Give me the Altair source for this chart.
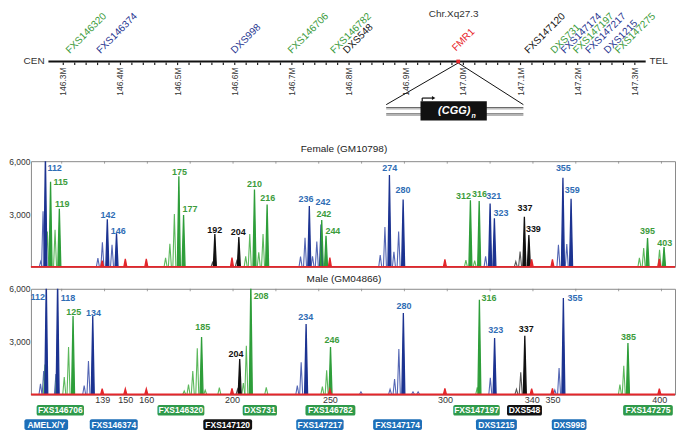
import json
import altair as alt
import pandas as pd

FONT = "Liberation Sans"

# ---------------- chromosome map data ----------------
MAP_TITLE = "Chr.Xq27.3"
MAP_TITLE_MB = 146.983
CHROM_SPAN = [146.274, 147.319]
MAJOR_TICKS = [146.3, 146.4, 146.5, 146.6, 146.7, 146.8, 146.9, 147.0, 147.1, 147.2, 147.3]
MINOR_TICKS = [round(146.3 + 0.02 * i, 2) for i in range(51)]
MARKER_NAMES = ["FXS146320", "FXS146374", "DXS998", "FXS146706", "FXS146782", "DXS548",
                "FXS147120", "DXS731", "FXS147174", "FXS147197", "FXS147217", "DXS1215", "FXS147275"]
MARKER_DYES = ["green", "blue", "blue", "green", "green", "black",
               "black", "green", "blue", "green", "blue", "blue", "green"]
MARKER_LABEL_MB = [146.3111, 146.3652, 146.6002, 146.6997, 146.7743, 146.7966,
                   147.1139, 147.1593, 147.1774, 147.1988, 147.2202, 147.2528, 147.2717]
FMR1_MB = 146.991
FMR1_LABEL_MB = 146.987
CEN_MB = 146.2674
TEL_MB = 147.3257
INSET_SPAN = [146.865, 147.105]
GENE_BOX = [146.925, 147.041]
CGG_MB = 146.984
ARROW_SPAN = [146.928, 146.948]

# ---------------- electropherogram data (size in bp, height in RFU) ----------------
LADDER_SIZES = [139, 150, 160, 200, 250, 300, 340, 350, 400]
LADDER_POS = [139.9, 150.7, 160.5, 200.5, 246.2, 299.9, 340.4, 350.1, 400.0]
FEMALE_LADDER_H = [350, 450, 450, 520, 520, 420, 420, 430, 450]
MALE_LADDER_H = [330, 320, 320, 350, 300, 350, 330, 350, 330]
TOP_TICKS = [121, 141, 161, 181, 201, 221, 241, 261, 281, 301, 321, 341, 361, 381, 401]

FEMALE_BLUE = [(113.4, 6400), (142.3, 2700), (146.6, 1900), (236.6, 3450), (242.1, 2400),
               (274.0, 5210), (280.4, 3830), (321.0, 3600), (323.0, 2760), (355.0, 5060), (358.8, 3870)]
FEMALE_BLUE_MINOR = [(111.2, 300), (112.3, 3160), (137.9, 500), (140.0, 1400), (144.5, 1250),
                     (232.5, 580), (234.6, 1650), (238.1, 600), (240.1, 1440), (269.7, 670),
                     (271.9, 2260), (276.1, 860), (278.3, 2010), (318.9, 600), (352.9, 1250), (356.8, 1300)]
FEMALE_GREEN = [(115.8, 4830), (119.9, 3300), (175.7, 5140), (177.9, 2945), (211.0, 4390),
                (216.9, 3545), (242.4, 2660), (244.4, 1760), (311.8, 3780), (315.9, 3740),
                (394.5, 1633), (402.2, 1126)]
FEMALE_GREEN_MINOR = [(114.3, 2000), (117.9, 2100), (169.5, 505), (171.5, 1310), (173.6, 3000),
                      (206.9, 600), (208.8, 1860), (213.0, 820), (215.0, 1860), (309.7, 385),
                      (313.8, 350), (390.7, 507), (392.7, 1070), (400.1, 974)]
FEMALE_BLACK = [(192.5, 1860), (203.7, 1690), (337.0, 2840), (339.1, 1800)]
FEMALE_BLACK_MINOR = [(191.4, 250), (202.7, 320), (333.0, 300), (335.0, 862)]

MALE_BLUE = [(113.8, 6500), (119.1, 6500), (135.5, 4450), (235.1, 4000), (280.5, 4620),
             (323.1, 3200), (355.2, 5470)]
MALE_BLUE_MINOR = [(111.1, 600), (112.6, 1330), (118.3, 1160), (131.5, 500), (133.5, 1900),
                   (231.0, 500), (232.8, 1830), (260.7, 150), (274.3, 300), (276.4, 880),
                   (278.4, 2580), (285.0, 150), (287.4, 150), (321.1, 940), (351.2, 250), (353.2, 1500)]
MALE_GREEN = [(126.3, 4450), (186.3, 3260), (209.3, 6400), (246.5, 2690), (316.0, 5375), (385.35, 2920)]
MALE_GREEN_MINOR = [(113.2, 1700), (118.8, 1700), (122.2, 990), (124.2, 2690), (178.2, 200),
                    (180.2, 556), (182.2, 1333), (184.3, 2620), (188.0, 240), (194.6, 390),
                    (205.8, 650), (207.2, 2770), (216.5, 400), (242.7, 440), (244.7, 1370),
                    (315.0, 400), (381.6, 556), (383.4, 1633)]
MALE_BLACK = [(204.1, 2013), (337.2, 3334)]
MALE_BLACK_MINOR = [(203.1, 300), (333.3, 300), (335.3, 1258)]

FEMALE_LABELS = [("112", "blue", 117.7, 5600), ("115", "green", 120.5, 4790), ("119", "green", 121.3, 3580),
                 ("142", "blue", 142.6, 2950), ("146", "blue", 147.4, 2030), ("175", "green", 176.0, 5360),
                 ("177", "green", 180.9, 3300), ("192", "black", 192.5, 2070), ("204", "black", 203.4, 1970),
                 ("210", "green", 211.0, 4680), ("216", "green", 217.2, 3890), ("236", "blue", 235.1, 3840),
                 ("242", "blue", 243.0, 3680), ("242", "green", 243.4, 3010), ("244", "green", 247.6, 2010),
                 ("274", "blue", 274.2, 5600), ("280", "blue", 280.3, 4350), ("312", "green", 308.6, 4030),
                 ("316", "green", 316.1, 4160), ("321", "blue", 322.7, 4030), ("323", "blue", 326.1, 3070),
                 ("337", "black", 337.3, 3350), ("339", "black", 341.2, 2150), ("355", "blue", 355.2, 5600),
                 ("359", "blue", 359.3, 4350), ("395", "green", 394.5, 2010), ("403", "green", 402.5, 1340)]
MALE_LABELS = [("112", "blue", 109.8, 5530), ("118", "blue", 123.9, 5470), ("125", "green", 126.6, 4680),
               ("134", "blue", 135.8, 4620), ("185", "green", 186.8, 3810), ("204", "black", 202.4, 2310),
               ("208", "green", 214.1, 5570), ("234", "blue", 234.9, 4380), ("246", "green", 247.2, 3070),
               ("280", "blue", 280.8, 5040), ("316", "green", 320.5, 5490), ("323", "blue", 323.6, 3640),
               ("337", "black", 337.9, 3710), ("355", "blue", 360.6, 5470), ("385", "green", 385.6, 3260)]

BOX_NAMES = ["FXS146706", "FXS146320", "DXS731", "FXS146782", "FXS147197", "DXS548", "FXS147275",
             "AMELX/Y", "FXS146374", "FXS147120", "FXS147217", "FXS147174", "DXS1215", "DXS998"]
BOX_DYES = ["green", "green", "green", "green", "green", "black", "green",
            "blue", "blue", "black", "blue", "blue", "blue", "blue"]
BOX_ROWS = ["1"] * 7 + ["2"] * 7
BOX_START = [109.3, 165.7, 205.5, 234.8, 303.8, 328.9, 383.1, 103.6, 134.1, 187.1, 230.5, 266.4, 314.4, 349.8]
BOX_END = [131.4, 187.6, 221.5, 258.1, 325.5, 345.2, 406.3, 124.0, 156.5, 209.9, 252.6, 289.2, 333.5, 366.0]

# ---------------- styles ----------------
PEAK_COL = {"blue": "#1c3391", "green": "#2e9e3a", "black": "#111111", "red": "#e3262b"}
MINOR_COL = {"blue": "#5466b4", "green": "#5cb85c", "black": "#555555"}
LABEL_COL = {"blue": "#2f6db5", "green": "#3c9c3c", "black": "#111111"}
MAP_COL = {"blue": "#1f3590", "green": "#3a9a3a", "black": "#111111", "red": "#e8262a"}
BOX_COL = {"blue": "#1e6fb8", "green": "#2f9a4a", "black": "#111111"}
W = 646
HALF = 0.7
MB_DOMAIN = [146.2434, 147.3703]
BP_DOMAIN = [106.64, 407.32]

mb_scale = alt.Scale(domain=MB_DOMAIN, nice=False, zero=False)
lvl_scale = alt.Scale(domain=[-78, 52], nice=False, zero=False)
bp_scale = alt.Scale(domain=BP_DOMAIN, nice=False, zero=False)
h_scale = alt.Scale(domain=[0, 6000], nice=False)


def mx(f):
    return alt.X(f, type="quantitative", scale=mb_scale, axis=None)


def my(f):
    return alt.Y(f, type="quantitative", scale=lvl_scale, axis=None)


# ---------------- map panel ----------------
line_df = pd.DataFrame({"a": [CHROM_SPAN[0]], "b": [CHROM_SPAN[1]], "l": [0]})
tick_df = pd.DataFrame({"mb": MINOR_TICKS, "y1": -1.0, "y2": -3.6})
major_df = pd.DataFrame({"mb": MAJOR_TICKS, "l": -6.0,
                         "t": [f"{v:.1f}M" for v in MAJOR_TICKS]})
mk_df = pd.DataFrame({"mb": MARKER_LABEL_MB, "name": MARKER_NAMES, "l": 7.5,
                      "col": [MAP_COL[d] for d in MARKER_DYES]})
fmr_df = pd.DataFrame({"mb": [FMR1_LABEL_MB], "name": ["FMR1"], "l": [10.0]})
dot_df = pd.DataFrame({"mb": [FMR1_MB], "l": [0]})
title_df = pd.DataFrame({"mb": [MAP_TITLE_MB], "l": [47.5], "t": [MAP_TITLE]})
cen_df = pd.DataFrame({"mb": [CEN_MB], "l": [0], "t": ["CEN"]})
tel_df = pd.DataFrame({"mb": [TEL_MB], "l": [0], "t": ["TEL"]})
zoom_df = pd.DataFrame({"a": [FMR1_MB, FMR1_MB], "b": [INSET_SPAN[0], INSET_SPAN[1]],
                        "y1": [-1.5, -1.5], "y2": [-43.3, -43.3]})
gray_df = pd.DataFrame({"a": INSET_SPAN[0], "b": INSET_SPAN[1],
                        "l": [-46.2, -47.6, -52.6, -54.0],
                        "c": ["#6a6a6a", "#b5b5b5", "#6a6a6a", "#b5b5b5"]})
box_df = pd.DataFrame({"a": [GENE_BOX[0]], "b": [GENE_BOX[1]], "y1": [-40], "y2": [-59.3]})
cgg_df = pd.DataFrame({"mb": [CGG_MB], "l": [-49.5], "t": ["(CGG)"]})
n_df = pd.DataFrame({"mb": [GENE_BOX[1] - 0.023], "l": [-54.5], "t": ["n"]})
arr_v = pd.DataFrame({"a": [ARROW_SPAN[0]], "y1": [-40], "y2": [-36.7]})
arr_h = pd.DataFrame({"a": [ARROW_SPAN[0]], "b": [ARROW_SPAN[1]], "l": [-36.7]})
arr_p = pd.DataFrame({"mb": [ARROW_SPAN[1]], "l": [-36.7]})

map_layers = [
    alt.Chart(line_df).mark_rule(color="#111", strokeWidth=2).encode(x=mx("a"), x2="b", y=my("l")),
    alt.Chart(tick_df).mark_rule(color="#222", strokeWidth=1.2).encode(x=mx("mb"), y=my("y1"), y2="y2"),
    alt.Chart(major_df).mark_text(angle=270, align="right", baseline="middle", fontSize=8.5,
                                  color="#333").encode(x=mx("mb"), y=my("l"), text="t:N"),
    alt.Chart(mk_df).mark_text(angle=315, align="left", baseline="alphabetic", fontSize=10).encode(
        x=mx("mb"), y=my("l"), text="name:N", color=alt.Color("col:N", scale=None)),
    alt.Chart(fmr_df).mark_text(angle=315, align="left", baseline="alphabetic", fontSize=10,
                                color=MAP_COL["red"]).encode(x=mx("mb"), y=my("l"), text="name:N"),
    alt.Chart(title_df).mark_text(fontSize=10, color="#333", baseline="middle").encode(
        x=mx("mb"), y=my("l"), text="t:N"),
    alt.Chart(cen_df).mark_text(fontSize=10, color="#333", align="right", baseline="middle").encode(
        x=mx("mb"), y=my("l"), text="t:N"),
    alt.Chart(tel_df).mark_text(fontSize=10, color="#333", align="left", baseline="middle").encode(
        x=mx("mb"), y=my("l"), text="t:N"),
    alt.Chart(zoom_df).mark_rule(color="#111", strokeWidth=1).encode(
        x=mx("a"), x2="b", y=my("y1"), y2="y2"),
    alt.Chart(gray_df).mark_rule(strokeWidth=1.2).encode(
        x=mx("a"), x2="b", y=my("l"), color=alt.Color("c:N", scale=None)),
    alt.Chart(box_df).mark_rect(color="#111").encode(x=mx("a"), x2="b", y=my("y1"), y2="y2"),
    alt.Chart(cgg_df).mark_text(fontSize=11, fontWeight="bold", fontStyle="italic", color="white",
                                baseline="middle").encode(x=mx("mb"), y=my("l"), text="t:N"),
    alt.Chart(n_df).mark_text(fontSize=7, fontWeight="bold", fontStyle="italic", color="white",
                              baseline="middle").encode(x=mx("mb"), y=my("l"), text="t:N"),
    alt.Chart(arr_v).mark_rule(color="#111", strokeWidth=1.2).encode(x=mx("a"), y=my("y1"), y2="y2"),
    alt.Chart(arr_h).mark_rule(color="#111", strokeWidth=1.2).encode(x=mx("a"), x2="b", y=my("l")),
    alt.Chart(arr_p).mark_point(shape="triangle-right", filled=True, size=16, color="#111",
                                opacity=1).encode(x=mx("mb"), y=my("l")),
    alt.Chart(dot_df).mark_square(size=14, color=MAP_COL["red"], opacity=1).encode(x=mx("mb"), y=my("l")),
]
map_chart = alt.layer(*map_layers).properties(width=W, height=130)


# ---------------- electropherogram panels ----------------
def vertices(peaks, tag, colour):
    rows = []
    for i, (x, h) in enumerate(peaks):
        pid = f"{tag}-{i}"
        for off, hh in ((-HALF, 0), (0, h), (HALF, 0)):
            rows.append({"pid": pid, "bp": x + off, "h": hh, "col": colour})
    return rows


def panel(title, title_dy, blue, blue_m, green, green_m, black, black_m, ladder_h, labels, show_axis):
    main_rows = (vertices(blue, "b", PEAK_COL["blue"]) + vertices(green, "g", PEAK_COL["green"])
                 + vertices(black, "k", PEAK_COL["black"])
                 + vertices(list(zip(LADDER_POS, ladder_h)), "r", PEAK_COL["red"]))
    minor_rows = (vertices(blue_m, "bm", MINOR_COL["blue"]) + vertices(green_m, "gm", MINOR_COL["green"])
                  + vertices(black_m, "km", MINOR_COL["black"]))
    main_df = pd.DataFrame(main_rows)
    minor_df = pd.DataFrame(minor_rows)
    lab_df = pd.DataFrame({"t": [l[0] for l in labels], "col": [LABEL_COL[l[1]] for l in labels],
                           "bp": [l[2] for l in labels], "h": [l[3] for l in labels]})
    base_df = pd.DataFrame({"bp": [BP_DOMAIN[0]], "bp2": [BP_DOMAIN[1]], "h": [0]})
    top_df = pd.DataFrame({"bp": TOP_TICKS, "h": 6000, "h2": 5860})

    if show_axis:
        label_expr = (json.dumps([str(s) for s in LADDER_SIZES]) + "[indexof("
                      + json.dumps(LADDER_POS) + ", datum.value)]")
        xaxis = alt.Axis(values=LADDER_POS, labelExpr=label_expr, ticks=False, domain=False, grid=False,
                         labelPadding=1, labelFontSize=9, labelColor="#333", labelFlush=False, title=None)
    else:
        xaxis = None
    yaxis = alt.Axis(values=[3000, 6000], labelExpr="format(datum.value, ',')", ticks=False,
                     domain=False, grid=False, labelPadding=1, labelFontSize=8.5, labelColor="#333",
                     title=None)

    def X():
        return alt.X("bp:Q", scale=bp_scale, axis=xaxis)

    def Y():
        return alt.Y("h:Q", scale=h_scale, axis=yaxis, stack=None)

    layers = [
        alt.Chart(minor_df).mark_line(clip=True, strokeWidth=1.1).encode(
            x=X(), y=Y(), detail="pid:N", color=alt.Color("col:N", scale=None)),
        alt.Chart(main_df).mark_area(clip=True, opacity=1).encode(
            x=X(), y=Y(), detail="pid:N", color=alt.Color("col:N", scale=None)),
        alt.Chart(main_df).mark_line(clip=True, strokeWidth=1.3).encode(
            x=X(), y=Y(), detail="pid:N", color=alt.Color("col:N", scale=None)),
        alt.Chart(base_df).mark_rule(color=PEAK_COL["red"], strokeWidth=1.8).encode(
            x=X(), x2="bp2", y=Y()),
        alt.Chart(top_df).mark_rule(color="#888", strokeWidth=0.8).encode(x=X(), y=Y(), y2="h2"),
        alt.Chart(lab_df).mark_text(fontSize=9, fontWeight="bold", baseline="middle").encode(
            x=X(), y=Y(), text="t:N", color=alt.Color("col:N", scale=None)),
    ]
    return alt.layer(*layers).properties(
        width=W, height=106,
        title=alt.TitleParams(title, fontSize=10, fontWeight="normal", color="#222", anchor="middle",
                              baseline="bottom", offset=5, dy=title_dy, dx=-9),
        view=alt.ViewBackground(stroke="#8a8a8a", strokeWidth=1))


female = panel("Female (GM10798)", 12, FEMALE_BLUE, FEMALE_BLUE_MINOR, FEMALE_GREEN, FEMALE_GREEN_MINOR,
               FEMALE_BLACK, FEMALE_BLACK_MINOR, FEMALE_LADDER_H, FEMALE_LABELS, False)
male = panel("Male (GM04866)", 14, MALE_BLUE, MALE_BLUE_MINOR, MALE_GREEN, MALE_GREEN_MINOR,
             MALE_BLACK, MALE_BLACK_MINOR, MALE_LADDER_H, MALE_LABELS, True)

# ---------------- marker boxes ----------------
box_tbl = pd.DataFrame({"name": BOX_NAMES, "row": BOX_ROWS, "a": BOX_START, "b": BOX_END,
                        "col": [BOX_COL[d] for d in BOX_DYES]})
box_tbl["mid"] = (box_tbl["a"] + box_tbl["b"]) / 2
row_scale = alt.Scale(domain=["1", "2"], paddingInner=0.25, paddingOuter=0.1)
boxes = alt.layer(
    alt.Chart(box_tbl).mark_rect(cornerRadius=2).encode(
        x=alt.X("a:Q", scale=bp_scale, axis=None), x2="b",
        y=alt.Y("row:N", scale=row_scale, axis=None), color=alt.Color("col:N", scale=None)),
    alt.Chart(box_tbl).mark_text(fontSize=8.5, fontWeight="bold", color="white", baseline="middle").encode(
        x=alt.X("mid:Q", scale=bp_scale, axis=None),
        y=alt.Y("row:N", scale=row_scale, axis=None), text="name:N"),
).properties(width=W, height=28)

lower = alt.vconcat(male, boxes, spacing=9, bounds="flush")
chart = alt.vconcat(map_chart, female, lower, spacing=22, bounds="flush").properties(
    padding=0
).configure_view(stroke=None).configure_text(font=FONT).configure_axis(
    labelFont=FONT).configure_title(font=FONT)

chart.save("out.html", embed_options={"renderer": "svg", "actions": False})
